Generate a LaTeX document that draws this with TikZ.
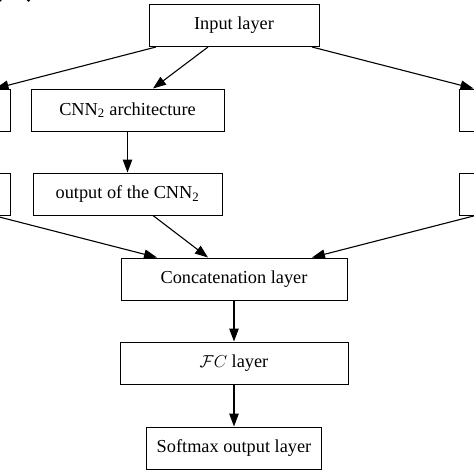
\documentclass[tikz,border=0pt]{standalone}
\usepackage{fontspec}
\setmainfont{Liberation Serif}
\usetikzlibrary{arrows.meta, positioning}
\tikzset{>={Triangle[width=9.5pt,length=13pt]}}
\tikzset{layer/.style={draw, line width=1pt, minimum height=42pt, inner sep=0pt, font=\fontsize{18.3}{20}\selectfont}}

\begin{document}
\begin{tikzpicture}[on grid, node distance=84pt]
			\useasboundingbox (0,0) rectangle (474pt,-474pt);
			\clip (0,0) rectangle (474pt,-474pt);
			\node (in) [layer, minimum width=170pt] at (234pt,-25.5pt) {Input layer};
			\node (arch2) [layer, minimum width=193pt, below left = 84.5pt and 106.5pt of in] {CNN\textsubscript{2} architecture};
			\node (out2) [layer, minimum width=189pt, below = of arch2] {output of the CNN\textsubscript{2}};
			\node (arch1) [layer, minimum width=193pt, left = 214pt of arch2] {};
			\node (out1) [layer, minimum width=193pt, below = of arch1] {};
			\node (arch3) [layer, minimum width=193pt, below right = 84.5pt and 321.5pt of in] {};
			\node (out3) [layer, minimum width=193pt, below = of arch3] {};
			\node (concat) [layer, minimum width=226pt, below = 253.5pt of in] {Concatenation layer};
			\node (fc) [layer, minimum width=228pt, below = of concat] {$\mathcal{F}C$ layer};
			\node (soft) [layer, minimum width=175pt, below = 85pt of fc] {Softmax output layer};
			\coordinate (dots) [below right = 127.5pt and 104pt of in];
			\foreach \i in {-1,0,1}
				\fill ([xshift=\i*28.5pt]dots) circle (1.9pt);
			\path[->, line width=1.1pt]
			([xshift=-78pt]in.south) edge ([xshift=82pt]arch1.north)
			([xshift=-26pt]in.south) edge ([xshift=25.5pt]arch2.north)
			([xshift=78pt]in.south) edge ([xshift=-82pt]arch3.north)
			(arch2) edge (out2)
			([xshift=80pt]out1.south) edge ([xshift=-77pt]concat.north)
			([xshift=25.5pt]out2.south) edge ([xshift=-26pt]concat.north)
			([xshift=-80pt]out3.south) edge ([xshift=78pt]concat.north)
			(concat) edge (fc)
			(fc) edge (soft);
\end{tikzpicture}
\end{document}
